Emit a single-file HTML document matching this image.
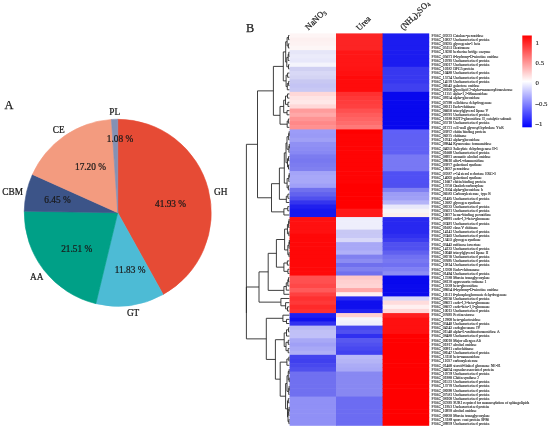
<!DOCTYPE html>
<html><head><meta charset="utf-8"><title>Figure</title>
<style>
html,body{margin:0;padding:0;background:#fff;}
body{width:550px;height:429px;overflow:hidden;}
svg{display:block;filter:blur(0.35px);}
.s{font-family:"Liberation Serif",serif;fill:#1a1a1a;}
</style></head><body>
<svg width="550" height="429" viewBox="0 0 550 429">
<rect x="0" y="0" width="550" height="429" fill="#fff"/>
<g>
<path d="M117.75,212.75 L117.75,119.25 A93.5,93.5 0 0 1 163.15,294.49 Z" fill="#E64B35" stroke="#E64B35" stroke-width="0.6" stroke-linejoin="round"/>
<path d="M117.75,212.75 L163.15,294.49 A93.5,93.5 0 0 1 95.87,303.65 Z" fill="#4DBBD5" stroke="#4DBBD5" stroke-width="0.6" stroke-linejoin="round"/>
<path d="M117.75,212.75 L95.87,303.65 A93.5,93.5 0 0 1 24.26,211.16 Z" fill="#00A087" stroke="#00A087" stroke-width="0.6" stroke-linejoin="round"/>
<path d="M117.75,212.75 L24.26,211.16 A93.5,93.5 0 0 1 32.46,174.43 Z" fill="#3C5488" stroke="#3C5488" stroke-width="0.6" stroke-linejoin="round"/>
<path d="M117.75,212.75 L32.46,174.43 A93.5,93.5 0 0 1 111.41,119.47 Z" fill="#F39B7F" stroke="#F39B7F" stroke-width="0.6" stroke-linejoin="round"/>
<path d="M117.75,212.75 L111.41,119.47 A93.5,93.5 0 0 1 117.75,119.25 Z" fill="#8491B4" stroke="#8491B4" stroke-width="0.6" stroke-linejoin="round"/>
</g>
<g class="s" font-size="9.3" text-anchor="middle" stroke="#1a1a1a" stroke-width="0.22">
<text x="114.8" y="114.7">PL</text>
<text x="120.0" y="142.0">1.08 %</text>
<text x="58.8" y="133.0">CE</text>
<text x="90.5" y="170.4">17.20 %</text>
<text x="12.6" y="195.1">CBM</text>
<text x="57.5" y="202.9">6.45 %</text>
<text x="76.7" y="251.8">21.51 %</text>
<text x="36.7" y="279.5">AA</text>
<text x="130.1" y="272.8">11.83 %</text>
<text x="133.1" y="315.8">GT</text>
<text x="220.7" y="194.5">GH</text>
<text x="170.6" y="207.3">41.93 %</text>
</g>
<text class="s" x="4.6" y="109.4" font-size="12.3" stroke="#1a1a1a" stroke-width="0.25">A</text>
<text class="s" x="246.0" y="31.7" font-size="12.3" stroke="#1a1a1a" stroke-width="0.25">B</text>
<g>
<rect x="289.60" y="33.40" width="47.00" height="4.774" fill="#fef5f5"/>
<rect x="289.60" y="37.57" width="47.00" height="4.774" fill="#fdf0f0"/>
<rect x="289.60" y="41.75" width="47.00" height="4.774" fill="#fdf2f2"/>
<rect x="289.60" y="45.92" width="47.00" height="4.774" fill="#fdf6f6"/>
<rect x="289.60" y="50.10" width="47.00" height="4.774" fill="#e6e6f8"/>
<rect x="289.60" y="54.27" width="47.00" height="4.774" fill="#ebebfa"/>
<rect x="289.60" y="58.45" width="47.00" height="4.774" fill="#e8e8fa"/>
<rect x="289.60" y="62.62" width="47.00" height="4.774" fill="#f4f4fc"/>
<rect x="289.60" y="66.80" width="47.00" height="4.774" fill="#d0d0f2"/>
<rect x="289.60" y="70.97" width="47.00" height="4.774" fill="#d8d8f6"/>
<rect x="289.60" y="75.14" width="47.00" height="4.774" fill="#d4d4f4"/>
<rect x="289.60" y="79.32" width="47.00" height="4.774" fill="#c8c8f2"/>
<rect x="289.60" y="83.49" width="47.00" height="4.774" fill="#c4c4f4"/>
<rect x="289.60" y="87.67" width="47.00" height="4.774" fill="#c8c8f4"/>
<rect x="289.60" y="91.84" width="47.00" height="4.774" fill="#ffd8d8"/>
<rect x="289.60" y="96.02" width="47.00" height="4.774" fill="#ffe4e4"/>
<rect x="289.60" y="100.19" width="47.00" height="4.774" fill="#ffe8e8"/>
<rect x="289.60" y="104.37" width="47.00" height="4.774" fill="#ffd8d8"/>
<rect x="289.60" y="108.54" width="47.00" height="4.774" fill="#ff9c9c"/>
<rect x="289.60" y="112.71" width="47.00" height="4.774" fill="#ffa8a8"/>
<rect x="289.60" y="116.89" width="47.00" height="4.774" fill="#ff9494"/>
<rect x="289.60" y="121.06" width="47.00" height="4.774" fill="#ff8888"/>
<rect x="289.60" y="125.24" width="47.00" height="4.774" fill="#ff9090"/>
<rect x="289.60" y="129.41" width="47.00" height="4.774" fill="#9c9cf8"/>
<rect x="289.60" y="133.59" width="47.00" height="4.774" fill="#9a9af6"/>
<rect x="289.60" y="137.76" width="47.00" height="4.774" fill="#a0a0f6"/>
<rect x="289.60" y="141.94" width="47.00" height="4.774" fill="#9090f4"/>
<rect x="289.60" y="146.11" width="47.00" height="4.774" fill="#8c8cf4"/>
<rect x="289.60" y="150.29" width="47.00" height="4.774" fill="#8888f4"/>
<rect x="289.60" y="154.46" width="47.00" height="4.774" fill="#7c7cf0"/>
<rect x="289.60" y="158.63" width="47.00" height="4.774" fill="#7878f0"/>
<rect x="289.60" y="162.81" width="47.00" height="4.774" fill="#7c7cf0"/>
<rect x="289.60" y="166.98" width="47.00" height="4.774" fill="#8080f0"/>
<rect x="289.60" y="171.16" width="47.00" height="4.774" fill="#a4a4f8"/>
<rect x="289.60" y="175.33" width="47.00" height="4.774" fill="#a8a8f8"/>
<rect x="289.60" y="179.51" width="47.00" height="4.774" fill="#a8a8f8"/>
<rect x="289.60" y="183.68" width="47.00" height="4.774" fill="#a0a0f8"/>
<rect x="289.60" y="187.86" width="47.00" height="4.774" fill="#7070ee"/>
<rect x="289.60" y="192.03" width="47.00" height="4.774" fill="#6262ee"/>
<rect x="289.60" y="196.20" width="47.00" height="4.774" fill="#5050ee"/>
<rect x="289.60" y="200.38" width="47.00" height="4.774" fill="#3434ee"/>
<rect x="289.60" y="204.55" width="47.00" height="4.774" fill="#2020ee"/>
<rect x="289.60" y="208.73" width="47.00" height="4.774" fill="#1818ee"/>
<rect x="289.60" y="212.90" width="47.00" height="4.774" fill="#1818ee"/>
<rect x="289.60" y="217.08" width="47.00" height="4.774" fill="#ff1010"/>
<rect x="289.60" y="221.25" width="47.00" height="4.774" fill="#ff1010"/>
<rect x="289.60" y="225.43" width="47.00" height="4.774" fill="#ff1010"/>
<rect x="289.60" y="229.60" width="47.00" height="4.774" fill="#ff1010"/>
<rect x="289.60" y="233.77" width="47.00" height="4.774" fill="#ff0808"/>
<rect x="289.60" y="237.95" width="47.00" height="4.774" fill="#ff0808"/>
<rect x="289.60" y="242.12" width="47.00" height="4.774" fill="#ff0808"/>
<rect x="289.60" y="246.30" width="47.00" height="4.774" fill="#ff0808"/>
<rect x="289.60" y="250.47" width="47.00" height="4.774" fill="#ff0808"/>
<rect x="289.60" y="254.65" width="47.00" height="4.774" fill="#ff0808"/>
<rect x="289.60" y="258.82" width="47.00" height="4.774" fill="#ff0808"/>
<rect x="289.60" y="263.00" width="47.00" height="4.774" fill="#ff0808"/>
<rect x="289.60" y="267.17" width="47.00" height="4.774" fill="#ff0808"/>
<rect x="289.60" y="271.34" width="47.00" height="4.774" fill="#ff0808"/>
<rect x="289.60" y="275.52" width="47.00" height="4.774" fill="#ff5050"/>
<rect x="289.60" y="279.69" width="47.00" height="4.774" fill="#ff5050"/>
<rect x="289.60" y="283.87" width="47.00" height="4.774" fill="#ff4848"/>
<rect x="289.60" y="288.04" width="47.00" height="4.774" fill="#ff5a5a"/>
<rect x="289.60" y="292.22" width="47.00" height="4.774" fill="#ff4040"/>
<rect x="289.60" y="296.39" width="47.00" height="4.774" fill="#ff3030"/>
<rect x="289.60" y="300.57" width="47.00" height="4.774" fill="#ff3838"/>
<rect x="289.60" y="304.74" width="47.00" height="4.774" fill="#ff2a2a"/>
<rect x="289.60" y="308.91" width="47.00" height="4.774" fill="#ff3030"/>
<rect x="289.60" y="313.09" width="47.00" height="4.774" fill="#1e1ef0"/>
<rect x="289.60" y="317.26" width="47.00" height="4.774" fill="#1010ee"/>
<rect x="289.60" y="321.44" width="47.00" height="4.774" fill="#3030f0"/>
<rect x="289.60" y="325.61" width="47.00" height="4.774" fill="#b8b8f4"/>
<rect x="289.60" y="329.79" width="47.00" height="4.774" fill="#c0c0f6"/>
<rect x="289.60" y="333.96" width="47.00" height="4.774" fill="#c0c0f8"/>
<rect x="289.60" y="338.14" width="47.00" height="4.774" fill="#a8a8f6"/>
<rect x="289.60" y="342.31" width="47.00" height="4.774" fill="#a0a0f6"/>
<rect x="289.60" y="346.49" width="47.00" height="4.774" fill="#a8a8f6"/>
<rect x="289.60" y="350.66" width="47.00" height="4.774" fill="#b0b0f6"/>
<rect x="289.60" y="354.83" width="47.00" height="4.774" fill="#4444ee"/>
<rect x="289.60" y="359.01" width="47.00" height="4.774" fill="#4040ee"/>
<rect x="289.60" y="363.18" width="47.00" height="4.774" fill="#4848ee"/>
<rect x="289.60" y="367.36" width="47.00" height="4.774" fill="#5050ee"/>
<rect x="289.60" y="371.53" width="47.00" height="4.774" fill="#7070f0"/>
<rect x="289.60" y="375.71" width="47.00" height="4.774" fill="#7070f0"/>
<rect x="289.60" y="379.88" width="47.00" height="4.774" fill="#7070f0"/>
<rect x="289.60" y="384.06" width="47.00" height="4.774" fill="#7070f0"/>
<rect x="289.60" y="388.23" width="47.00" height="4.774" fill="#7070f0"/>
<rect x="289.60" y="392.40" width="47.00" height="4.774" fill="#7070f0"/>
<rect x="289.60" y="396.58" width="47.00" height="4.774" fill="#9090f6"/>
<rect x="289.60" y="400.75" width="47.00" height="4.774" fill="#9090f6"/>
<rect x="289.60" y="404.93" width="47.00" height="4.774" fill="#9090f6"/>
<rect x="289.60" y="409.10" width="47.00" height="4.774" fill="#9090f6"/>
<rect x="289.60" y="413.28" width="47.00" height="4.774" fill="#9090f6"/>
<rect x="289.60" y="417.45" width="47.00" height="4.774" fill="#9090f6"/>
<rect x="289.60" y="421.63" width="47.00" height="4.174" fill="#9090f6"/>
<rect x="336.00" y="33.40" width="47.20" height="4.774" fill="#fc2424"/>
<rect x="336.00" y="37.57" width="47.20" height="4.774" fill="#fc2424"/>
<rect x="336.00" y="41.75" width="47.20" height="4.774" fill="#fc2424"/>
<rect x="336.00" y="45.92" width="47.20" height="4.774" fill="#fc2424"/>
<rect x="336.00" y="50.10" width="47.20" height="4.774" fill="#ff1616"/>
<rect x="336.00" y="54.27" width="47.20" height="4.774" fill="#ff1616"/>
<rect x="336.00" y="58.45" width="47.20" height="4.774" fill="#ff1616"/>
<rect x="336.00" y="62.62" width="47.20" height="4.774" fill="#ff1616"/>
<rect x="336.00" y="66.80" width="47.20" height="4.774" fill="#ff1414"/>
<rect x="336.00" y="70.97" width="47.20" height="4.774" fill="#ff1010"/>
<rect x="336.00" y="75.14" width="47.20" height="4.774" fill="#ff0a0a"/>
<rect x="336.00" y="79.32" width="47.20" height="4.774" fill="#ff0c0c"/>
<rect x="336.00" y="83.49" width="47.20" height="4.774" fill="#ff0c0c"/>
<rect x="336.00" y="87.67" width="47.20" height="4.774" fill="#ff0c0c"/>
<rect x="336.00" y="91.84" width="47.20" height="4.774" fill="#ff3030"/>
<rect x="336.00" y="96.02" width="47.20" height="4.774" fill="#ff3838"/>
<rect x="336.00" y="100.19" width="47.20" height="4.774" fill="#ff3c3c"/>
<rect x="336.00" y="104.37" width="47.20" height="4.774" fill="#ff4040"/>
<rect x="336.00" y="108.54" width="47.20" height="4.774" fill="#ff5050"/>
<rect x="336.00" y="112.71" width="47.20" height="4.774" fill="#ff5c5c"/>
<rect x="336.00" y="116.89" width="47.20" height="4.774" fill="#ff6464"/>
<rect x="336.00" y="121.06" width="47.20" height="4.774" fill="#ff6c6c"/>
<rect x="336.00" y="125.24" width="47.20" height="4.774" fill="#ff7878"/>
<rect x="336.00" y="129.41" width="47.20" height="4.774" fill="#ff0000"/>
<rect x="336.00" y="133.59" width="47.20" height="4.774" fill="#ff0404"/>
<rect x="336.00" y="137.76" width="47.20" height="4.774" fill="#ff0404"/>
<rect x="336.00" y="141.94" width="47.20" height="4.774" fill="#ff0404"/>
<rect x="336.00" y="146.11" width="47.20" height="4.774" fill="#ff0404"/>
<rect x="336.00" y="150.29" width="47.20" height="4.774" fill="#ff0404"/>
<rect x="336.00" y="154.46" width="47.20" height="4.774" fill="#ff0404"/>
<rect x="336.00" y="158.63" width="47.20" height="4.774" fill="#ff0404"/>
<rect x="336.00" y="162.81" width="47.20" height="4.774" fill="#ff0404"/>
<rect x="336.00" y="166.98" width="47.20" height="4.774" fill="#ff0404"/>
<rect x="336.00" y="171.16" width="47.20" height="4.774" fill="#ff0404"/>
<rect x="336.00" y="175.33" width="47.20" height="4.774" fill="#ff0404"/>
<rect x="336.00" y="179.51" width="47.20" height="4.774" fill="#ff0404"/>
<rect x="336.00" y="183.68" width="47.20" height="4.774" fill="#ff0000"/>
<rect x="336.00" y="187.86" width="47.20" height="4.774" fill="#ff0000"/>
<rect x="336.00" y="192.03" width="47.20" height="4.774" fill="#ff0000"/>
<rect x="336.00" y="196.20" width="47.20" height="4.774" fill="#ff0000"/>
<rect x="336.00" y="200.38" width="47.20" height="4.774" fill="#ff0000"/>
<rect x="336.00" y="204.55" width="47.20" height="4.774" fill="#ff0000"/>
<rect x="336.00" y="208.73" width="47.20" height="4.774" fill="#ff1a1a"/>
<rect x="336.00" y="212.90" width="47.20" height="4.774" fill="#ff1a1a"/>
<rect x="336.00" y="217.08" width="47.20" height="4.774" fill="#eeeefc"/>
<rect x="336.00" y="221.25" width="47.20" height="4.774" fill="#eeeefc"/>
<rect x="336.00" y="225.43" width="47.20" height="4.774" fill="#eeeefc"/>
<rect x="336.00" y="229.60" width="47.20" height="4.774" fill="#c8c8f4"/>
<rect x="336.00" y="233.77" width="47.20" height="4.774" fill="#c8c8f6"/>
<rect x="336.00" y="237.95" width="47.20" height="4.774" fill="#d8d8f8"/>
<rect x="336.00" y="242.12" width="47.20" height="4.774" fill="#a8a8f6"/>
<rect x="336.00" y="246.30" width="47.20" height="4.774" fill="#a8a8f6"/>
<rect x="336.00" y="250.47" width="47.20" height="4.774" fill="#b0b0f8"/>
<rect x="336.00" y="254.65" width="47.20" height="4.774" fill="#8080f0"/>
<rect x="336.00" y="258.82" width="47.20" height="4.774" fill="#8c8cf2"/>
<rect x="336.00" y="263.00" width="47.20" height="4.774" fill="#7070ee"/>
<rect x="336.00" y="267.17" width="47.20" height="4.774" fill="#8080f0"/>
<rect x="336.00" y="271.34" width="47.20" height="4.774" fill="#7070ee"/>
<rect x="336.00" y="275.52" width="47.20" height="4.774" fill="#ffc8c8"/>
<rect x="336.00" y="279.69" width="47.20" height="4.774" fill="#ffd0d0"/>
<rect x="336.00" y="283.87" width="47.20" height="4.774" fill="#ffd4d4"/>
<rect x="336.00" y="288.04" width="47.20" height="4.774" fill="#ffa8a8"/>
<rect x="336.00" y="292.22" width="47.20" height="4.774" fill="#fff0f0"/>
<rect x="336.00" y="296.39" width="47.20" height="4.774" fill="#2828f0"/>
<rect x="336.00" y="300.57" width="47.20" height="4.774" fill="#1010ee"/>
<rect x="336.00" y="304.74" width="47.20" height="4.774" fill="#1010ee"/>
<rect x="336.00" y="308.91" width="47.20" height="4.774" fill="#2020f0"/>
<rect x="336.00" y="313.09" width="47.20" height="4.774" fill="#ffd0d0"/>
<rect x="336.00" y="317.26" width="47.20" height="4.774" fill="#f4f4fc"/>
<rect x="336.00" y="321.44" width="47.20" height="4.774" fill="#f0f0fc"/>
<rect x="336.00" y="325.61" width="47.20" height="4.774" fill="#4848f0"/>
<rect x="336.00" y="329.79" width="47.20" height="4.774" fill="#5050f0"/>
<rect x="336.00" y="333.96" width="47.20" height="4.774" fill="#3030f0"/>
<rect x="336.00" y="338.14" width="47.20" height="4.774" fill="#5858f0"/>
<rect x="336.00" y="342.31" width="47.20" height="4.774" fill="#5050f0"/>
<rect x="336.00" y="346.49" width="47.20" height="4.774" fill="#4848f0"/>
<rect x="336.00" y="350.66" width="47.20" height="4.774" fill="#4040f0"/>
<rect x="336.00" y="354.83" width="47.20" height="4.774" fill="#b8b8f8"/>
<rect x="336.00" y="359.01" width="47.20" height="4.774" fill="#b4b4f6"/>
<rect x="336.00" y="363.18" width="47.20" height="4.774" fill="#acacf6"/>
<rect x="336.00" y="367.36" width="47.20" height="4.774" fill="#a8a8f6"/>
<rect x="336.00" y="371.53" width="47.20" height="4.774" fill="#8888f2"/>
<rect x="336.00" y="375.71" width="47.20" height="4.774" fill="#8888f2"/>
<rect x="336.00" y="379.88" width="47.20" height="4.774" fill="#8888f2"/>
<rect x="336.00" y="384.06" width="47.20" height="4.774" fill="#8888f2"/>
<rect x="336.00" y="388.23" width="47.20" height="4.774" fill="#8888f2"/>
<rect x="336.00" y="392.40" width="47.20" height="4.774" fill="#8888f2"/>
<rect x="336.00" y="396.58" width="47.20" height="4.774" fill="#6c6cf2"/>
<rect x="336.00" y="400.75" width="47.20" height="4.774" fill="#6c6cf2"/>
<rect x="336.00" y="404.93" width="47.20" height="4.774" fill="#6c6cf2"/>
<rect x="336.00" y="409.10" width="47.20" height="4.774" fill="#6c6cf2"/>
<rect x="336.00" y="413.28" width="47.20" height="4.774" fill="#6c6cf2"/>
<rect x="336.00" y="417.45" width="47.20" height="4.774" fill="#6c6cf2"/>
<rect x="336.00" y="421.63" width="47.20" height="4.174" fill="#6c6cf2"/>
<rect x="382.60" y="33.40" width="46.60" height="4.774" fill="#1c1cf0"/>
<rect x="382.60" y="37.57" width="46.60" height="4.774" fill="#1c1cf0"/>
<rect x="382.60" y="41.75" width="46.60" height="4.774" fill="#1c1cf0"/>
<rect x="382.60" y="45.92" width="46.60" height="4.774" fill="#1c1cf0"/>
<rect x="382.60" y="50.10" width="46.60" height="4.774" fill="#1c1cf0"/>
<rect x="382.60" y="54.27" width="46.60" height="4.774" fill="#1c1cf0"/>
<rect x="382.60" y="58.45" width="46.60" height="4.774" fill="#1c1cf0"/>
<rect x="382.60" y="62.62" width="46.60" height="4.774" fill="#1c1cf0"/>
<rect x="382.60" y="66.80" width="46.60" height="4.774" fill="#3838f0"/>
<rect x="382.60" y="70.97" width="46.60" height="4.774" fill="#3838f0"/>
<rect x="382.60" y="75.14" width="46.60" height="4.774" fill="#3838f0"/>
<rect x="382.60" y="79.32" width="46.60" height="4.774" fill="#3838f0"/>
<rect x="382.60" y="83.49" width="46.60" height="4.774" fill="#4040f0"/>
<rect x="382.60" y="87.67" width="46.60" height="4.774" fill="#4040f0"/>
<rect x="382.60" y="91.84" width="46.60" height="4.774" fill="#0808ee"/>
<rect x="382.60" y="96.02" width="46.60" height="4.774" fill="#0808ee"/>
<rect x="382.60" y="100.19" width="46.60" height="4.774" fill="#0808ee"/>
<rect x="382.60" y="104.37" width="46.60" height="4.774" fill="#0808ee"/>
<rect x="382.60" y="108.54" width="46.60" height="4.774" fill="#0808ee"/>
<rect x="382.60" y="112.71" width="46.60" height="4.774" fill="#0808ee"/>
<rect x="382.60" y="116.89" width="46.60" height="4.774" fill="#0808ee"/>
<rect x="382.60" y="121.06" width="46.60" height="4.774" fill="#0808ee"/>
<rect x="382.60" y="125.24" width="46.60" height="4.774" fill="#0808ee"/>
<rect x="382.60" y="129.41" width="46.60" height="4.774" fill="#6060f8"/>
<rect x="382.60" y="133.59" width="46.60" height="4.774" fill="#6060f4"/>
<rect x="382.60" y="137.76" width="46.60" height="4.774" fill="#6060f4"/>
<rect x="382.60" y="141.94" width="46.60" height="4.774" fill="#6060f4"/>
<rect x="382.60" y="146.11" width="46.60" height="4.774" fill="#6060f4"/>
<rect x="382.60" y="150.29" width="46.60" height="4.774" fill="#6060f4"/>
<rect x="382.60" y="154.46" width="46.60" height="4.774" fill="#7878f4"/>
<rect x="382.60" y="158.63" width="46.60" height="4.774" fill="#7878f4"/>
<rect x="382.60" y="162.81" width="46.60" height="4.774" fill="#7878f4"/>
<rect x="382.60" y="166.98" width="46.60" height="4.774" fill="#7878f4"/>
<rect x="382.60" y="171.16" width="46.60" height="4.774" fill="#5050f4"/>
<rect x="382.60" y="175.33" width="46.60" height="4.774" fill="#5050f4"/>
<rect x="382.60" y="179.51" width="46.60" height="4.774" fill="#5050f4"/>
<rect x="382.60" y="183.68" width="46.60" height="4.774" fill="#5050f0"/>
<rect x="382.60" y="187.86" width="46.60" height="4.774" fill="#8080f2"/>
<rect x="382.60" y="192.03" width="46.60" height="4.774" fill="#9c9cf6"/>
<rect x="382.60" y="196.20" width="46.60" height="4.774" fill="#a0a0f6"/>
<rect x="382.60" y="200.38" width="46.60" height="4.774" fill="#b4b4f8"/>
<rect x="382.60" y="204.55" width="46.60" height="4.774" fill="#e8e8fa"/>
<rect x="382.60" y="208.73" width="46.60" height="4.774" fill="#f6f4f8"/>
<rect x="382.60" y="212.90" width="46.60" height="4.774" fill="#fbefec"/>
<rect x="382.60" y="217.08" width="46.60" height="4.774" fill="#2828f0"/>
<rect x="382.60" y="221.25" width="46.60" height="4.774" fill="#2828f0"/>
<rect x="382.60" y="225.43" width="46.60" height="4.774" fill="#2828f0"/>
<rect x="382.60" y="229.60" width="46.60" height="4.774" fill="#2828f0"/>
<rect x="382.60" y="233.77" width="46.60" height="4.774" fill="#3030f0"/>
<rect x="382.60" y="237.95" width="46.60" height="4.774" fill="#3c3cf0"/>
<rect x="382.60" y="242.12" width="46.60" height="4.774" fill="#5050f0"/>
<rect x="382.60" y="246.30" width="46.60" height="4.774" fill="#5050f0"/>
<rect x="382.60" y="250.47" width="46.60" height="4.774" fill="#6060f0"/>
<rect x="382.60" y="254.65" width="46.60" height="4.774" fill="#7070f2"/>
<rect x="382.60" y="258.82" width="46.60" height="4.774" fill="#7878f2"/>
<rect x="382.60" y="263.00" width="46.60" height="4.774" fill="#7070f2"/>
<rect x="382.60" y="267.17" width="46.60" height="4.774" fill="#8080f4"/>
<rect x="382.60" y="271.34" width="46.60" height="4.774" fill="#8c8cf4"/>
<rect x="382.60" y="275.52" width="46.60" height="4.774" fill="#0808ee"/>
<rect x="382.60" y="279.69" width="46.60" height="4.774" fill="#0808ee"/>
<rect x="382.60" y="283.87" width="46.60" height="4.774" fill="#0a0aee"/>
<rect x="382.60" y="288.04" width="46.60" height="4.774" fill="#0a0aee"/>
<rect x="382.60" y="292.22" width="46.60" height="4.774" fill="#0a0aee"/>
<rect x="382.60" y="296.39" width="46.60" height="4.774" fill="#d8d8f8"/>
<rect x="382.60" y="300.57" width="46.60" height="4.774" fill="#ffdcdc"/>
<rect x="382.60" y="304.74" width="46.60" height="4.774" fill="#fff0f0"/>
<rect x="382.60" y="308.91" width="46.60" height="4.774" fill="#ffd8d8"/>
<rect x="382.60" y="313.09" width="46.60" height="4.774" fill="#ff2020"/>
<rect x="382.60" y="317.26" width="46.60" height="4.774" fill="#ff1010"/>
<rect x="382.60" y="321.44" width="46.60" height="4.774" fill="#ff1010"/>
<rect x="382.60" y="325.61" width="46.60" height="4.774" fill="#ff1010"/>
<rect x="382.60" y="329.79" width="46.60" height="4.774" fill="#ff1010"/>
<rect x="382.60" y="333.96" width="46.60" height="4.774" fill="#ff0000"/>
<rect x="382.60" y="338.14" width="46.60" height="4.774" fill="#ff0000"/>
<rect x="382.60" y="342.31" width="46.60" height="4.774" fill="#ff0000"/>
<rect x="382.60" y="346.49" width="46.60" height="4.774" fill="#ff0000"/>
<rect x="382.60" y="350.66" width="46.60" height="4.774" fill="#ff0000"/>
<rect x="382.60" y="354.83" width="46.60" height="4.774" fill="#ff0000"/>
<rect x="382.60" y="359.01" width="46.60" height="4.774" fill="#ff0000"/>
<rect x="382.60" y="363.18" width="46.60" height="4.774" fill="#ff0000"/>
<rect x="382.60" y="367.36" width="46.60" height="4.774" fill="#ff0000"/>
<rect x="382.60" y="371.53" width="46.60" height="4.774" fill="#ff0000"/>
<rect x="382.60" y="375.71" width="46.60" height="4.774" fill="#ff0000"/>
<rect x="382.60" y="379.88" width="46.60" height="4.774" fill="#ff0000"/>
<rect x="382.60" y="384.06" width="46.60" height="4.774" fill="#ff0000"/>
<rect x="382.60" y="388.23" width="46.60" height="4.774" fill="#ff0000"/>
<rect x="382.60" y="392.40" width="46.60" height="4.774" fill="#ff0000"/>
<rect x="382.60" y="396.58" width="46.60" height="4.774" fill="#ff0000"/>
<rect x="382.60" y="400.75" width="46.60" height="4.774" fill="#ff0000"/>
<rect x="382.60" y="404.93" width="46.60" height="4.774" fill="#ff0000"/>
<rect x="382.60" y="409.10" width="46.60" height="4.774" fill="#ff0000"/>
<rect x="382.60" y="413.28" width="46.60" height="4.774" fill="#ff0000"/>
<rect x="382.60" y="417.45" width="46.60" height="4.774" fill="#ff0000"/>
<rect x="382.60" y="421.63" width="46.60" height="4.174" fill="#ff0000"/>
</g>
<path d="M288.47,35.49L288.47,39.66 M288.47,35.49L289.40,35.49 M288.47,39.66L289.40,39.66 M288.35,43.84L288.35,48.01 M288.35,43.84L289.40,43.84 M288.35,48.01L289.40,48.01 M287.10,37.57L287.10,45.92 M287.10,37.57L288.47,37.57 M287.10,45.92L288.35,45.92 M288.80,52.19L288.80,56.36 M288.80,52.19L289.40,52.19 M288.80,56.36L289.40,56.36 M288.16,54.27L288.16,60.53 M288.16,54.27L288.80,54.27 M288.16,60.53L289.40,60.53 M288.52,64.71L288.52,68.88 M288.52,64.71L289.40,64.71 M288.52,68.88L289.40,68.88 M286.80,57.40L286.80,66.80 M286.80,57.40L288.16,57.40 M286.80,66.80L288.52,66.80 M285.70,41.75L285.70,62.10 M285.70,41.75L287.10,41.75 M285.70,62.10L286.80,62.10 M287.60,73.06L287.60,77.23 M287.60,73.06L289.40,73.06 M287.60,77.23L289.40,77.23 M288.62,81.41L288.62,85.58 M288.62,81.41L289.40,81.41 M288.62,85.58L289.40,85.58 M287.30,83.49L287.30,89.76 M287.30,83.49L288.62,83.49 M287.30,89.76L289.40,89.76 M286.10,75.14L286.10,86.62 M286.10,75.14L287.60,75.14 M286.10,86.62L287.30,86.62 M283.30,51.92L283.30,80.88 M283.30,51.92L285.70,51.92 M283.30,80.88L286.10,80.88 M287.56,93.93L287.56,98.10 M287.56,93.93L289.40,93.93 M287.56,98.10L289.40,98.10 M287.95,102.28L287.95,106.45 M287.95,102.28L289.40,102.28 M287.95,106.45L289.40,106.45 M285.50,96.02L285.50,104.37 M285.50,96.02L287.56,96.02 M285.50,104.37L287.95,104.37 M287.00,110.63L287.00,114.80 M287.00,110.63L289.40,110.63 M287.00,114.80L289.40,114.80 M283.70,100.19L283.70,112.71 M283.70,100.19L285.50,100.19 M283.70,112.71L287.00,112.71 M288.38,118.98L288.38,123.15 M288.38,118.98L289.40,118.98 M288.38,123.15L289.40,123.15 M287.20,121.06L287.20,127.33 M287.20,121.06L288.38,121.06 M287.20,127.33L289.40,127.33 M280.00,106.45L280.00,124.19 M280.00,106.45L283.70,106.45 M280.00,124.19L287.20,124.19 M273.40,66.40L273.40,115.32 M273.40,66.40L283.30,66.40 M273.40,115.32L280.00,115.32 M289.11,131.50L289.11,135.67 M289.11,131.50L289.40,131.50 M289.11,135.67L289.40,135.67 M288.65,133.59L288.65,139.85 M288.65,133.59L289.11,133.59 M288.65,139.85L289.40,139.85 M289.27,144.02L289.27,148.20 M289.27,144.02L289.40,144.02 M289.27,148.20L289.40,148.20 M288.88,146.11L288.88,152.37 M288.88,146.11L289.27,146.11 M288.88,152.37L289.40,152.37 M287.00,136.72L287.00,149.24 M287.00,136.72L288.65,136.72 M287.00,149.24L288.88,149.24 M288.53,156.55L288.53,160.72 M288.53,156.55L289.40,156.55 M288.53,160.72L289.40,160.72 M288.52,164.90L288.52,169.07 M288.52,164.90L289.40,164.90 M288.52,169.07L289.40,169.07 M287.50,158.63L287.50,166.98 M287.50,158.63L288.53,158.63 M287.50,166.98L288.52,166.98 M286.00,142.98L286.00,162.81 M286.00,142.98L287.00,142.98 M286.00,162.81L287.50,162.81 M289.22,173.24L289.22,177.42 M289.22,173.24L289.40,173.24 M289.22,177.42L289.40,177.42 M288.81,175.33L288.81,181.59 M288.81,175.33L289.22,175.33 M288.81,181.59L289.40,181.59 M288.37,185.77L288.37,189.94 M288.37,185.77L289.40,185.77 M288.37,189.94L289.40,189.94 M287.10,178.46L287.10,187.86 M287.10,178.46L288.81,178.46 M287.10,187.86L288.37,187.86 M284.30,152.89L284.30,183.16 M284.30,152.89L286.00,152.89 M284.30,183.16L287.10,183.16 M287.91,194.12L287.91,198.29 M287.91,194.12L289.40,194.12 M287.91,198.29L289.40,198.29 M286.30,196.20L286.30,202.47 M286.30,196.20L287.91,196.20 M286.30,202.47L289.40,202.47 M279.40,168.03L279.40,199.34 M279.40,168.03L284.30,168.03 M279.40,199.34L286.30,199.34 M287.77,206.64L287.77,210.81 M287.77,206.64L289.40,206.64 M287.77,210.81L289.40,210.81 M283.90,208.73L283.90,214.99 M283.90,208.73L287.77,208.73 M283.90,214.99L289.40,214.99 M271.50,183.68L271.50,211.86 M271.50,183.68L279.40,183.68 M271.50,211.86L283.90,211.86 M257.50,90.86L257.50,197.77 M257.50,90.86L273.40,90.86 M257.50,197.77L271.50,197.77 M289.06,219.16L289.06,223.34 M289.06,219.16L289.40,219.16 M289.06,223.34L289.40,223.34 M288.60,221.25L288.60,227.51 M288.60,221.25L289.06,221.25 M288.60,227.51L289.40,227.51 M288.89,231.69L288.89,235.86 M288.89,231.69L289.40,231.69 M288.89,235.86L289.40,235.86 M287.45,224.38L287.45,233.77 M287.45,224.38L288.60,224.38 M287.45,233.77L288.89,233.77 M289.32,240.04L289.32,244.21 M289.32,240.04L289.40,240.04 M289.32,244.21L289.40,244.21 M289.03,242.12L289.03,248.39 M289.03,242.12L289.32,242.12 M289.03,248.39L289.40,248.39 M288.96,252.56L288.96,256.73 M288.96,252.56L289.40,252.56 M288.96,256.73L289.40,256.73 M287.84,245.25L287.84,254.65 M287.84,245.25L289.03,245.25 M287.84,254.65L288.96,254.65 M284.60,229.08L284.60,249.95 M284.60,229.08L287.45,229.08 M284.60,249.95L287.84,249.95 M287.34,260.91L287.34,265.08 M287.34,260.91L289.40,260.91 M287.34,265.08L289.40,265.08 M287.90,269.26L287.90,273.43 M287.90,269.26L289.40,269.26 M287.90,273.43L289.40,273.43 M283.90,263.00L283.90,271.34 M283.90,263.00L287.34,263.00 M283.90,271.34L287.90,271.34 M276.40,239.51L276.40,267.17 M276.40,239.51L284.60,239.51 M276.40,267.17L283.90,267.17 M288.47,277.61L288.47,281.78 M288.47,277.61L289.40,277.61 M288.47,281.78L289.40,281.78 M287.83,279.69L287.83,285.96 M287.83,279.69L288.47,279.69 M287.83,285.96L289.40,285.96 M286.27,282.82L286.27,290.13 M286.27,282.82L287.83,282.82 M286.27,290.13L289.40,290.13 M283.90,286.48L283.90,294.30 M283.90,286.48L286.27,286.48 M283.90,294.30L289.40,294.30 M268.20,253.34L268.20,290.39 M268.20,253.34L276.40,253.34 M268.20,290.39L283.90,290.39 M287.56,306.83L287.56,311.00 M287.56,306.83L289.40,306.83 M287.56,311.00L289.40,311.00 M285.60,302.65L285.60,308.91 M285.60,302.65L289.40,302.65 M285.60,308.91L287.56,308.91 M280.90,298.48L280.90,305.78 M280.90,298.48L289.40,298.48 M280.90,305.78L285.60,305.78 M259.00,271.87L259.00,302.13 M259.00,271.87L268.20,271.87 M259.00,302.13L280.90,302.13 M286.50,319.35L286.50,323.53 M286.50,319.35L289.40,319.35 M286.50,323.53L289.40,323.53 M282.90,315.18L282.90,321.44 M282.90,315.18L289.40,315.18 M282.90,321.44L286.50,321.44 M288.55,327.70L288.55,331.87 M288.55,327.70L289.40,327.70 M288.55,331.87L289.40,331.87 M286.50,329.79L286.50,336.05 M286.50,329.79L288.55,329.79 M286.50,336.05L289.40,336.05 M288.29,340.22L288.29,344.40 M288.29,340.22L289.40,340.22 M288.29,344.40L289.40,344.40 M288.17,348.57L288.17,352.75 M288.17,348.57L289.40,348.57 M288.17,352.75L289.40,352.75 M286.00,342.31L286.00,350.66 M286.00,342.31L288.29,342.31 M286.00,350.66L288.17,350.66 M284.20,332.92L284.20,346.49 M284.20,332.92L286.50,332.92 M284.20,346.49L286.00,346.49 M288.86,356.92L288.86,361.10 M288.86,356.92L289.40,356.92 M288.86,361.10L289.40,361.10 M286.90,359.01L286.90,365.27 M286.90,359.01L288.86,359.01 M286.90,365.27L289.40,365.27 M289.05,369.44L289.05,373.62 M289.05,369.44L289.40,369.44 M289.05,373.62L289.40,373.62 M289.17,377.79L289.17,381.97 M289.17,377.79L289.40,377.79 M289.17,381.97L289.40,381.97 M288.24,371.53L288.24,379.88 M288.24,371.53L289.05,371.53 M288.24,379.88L289.17,379.88 M289.11,386.14L289.11,390.32 M289.11,386.14L289.40,386.14 M289.11,390.32L289.40,390.32 M288.71,388.23L288.71,394.49 M288.71,388.23L289.11,388.23 M288.71,394.49L289.40,394.49 M287.00,375.71L287.00,391.36 M287.00,375.71L288.24,375.71 M287.00,391.36L288.71,391.36 M288.30,398.67L288.30,402.84 M288.30,398.67L289.40,398.67 M288.30,402.84L289.40,402.84 M289.08,407.01L289.08,411.19 M289.08,407.01L289.40,407.01 M289.08,411.19L289.40,411.19 M288.71,409.10L288.71,415.36 M288.71,409.10L289.08,409.10 M288.71,415.36L289.40,415.36 M288.89,419.54L288.89,423.71 M288.89,419.54L289.40,419.54 M288.89,423.71L289.40,423.71 M288.00,412.23L288.00,421.63 M288.00,412.23L288.71,412.23 M288.00,421.63L288.89,421.63 M287.50,400.75L287.50,416.93 M287.50,400.75L288.30,400.75 M287.50,416.93L288.00,416.93 M285.60,383.53L285.60,408.84 M285.60,383.53L287.00,383.53 M285.60,408.84L287.50,408.84 M280.20,362.14L280.20,396.19 M280.20,362.14L286.90,362.14 M280.20,396.19L285.60,396.19 M275.40,339.70L275.40,379.16 M275.40,339.70L284.20,339.70 M275.40,379.16L280.20,379.16 M266.30,318.31L266.30,359.43 M266.30,318.31L282.90,318.31 M266.30,359.43L275.40,359.43 M246.40,287.00L246.40,338.87 M246.40,287.00L259.00,287.00 M246.40,338.87L266.30,338.87 M246.40,144.32L246.40,312.93 M246.40,144.32L257.50,144.32 M246.40,312.93L246.40,312.93" stroke="#2a2a2a" stroke-width="0.9" fill="none"/>
<g class="s" font-size="3.75" fill="#151515" stroke="#151515" stroke-width="0.09">
<text x="431.6" y="36.79">FSAC_03323 Catalase-peroxidase</text>
<text x="431.6" y="40.96">FSAC_10837 Uncharacterized protein</text>
<text x="431.6" y="45.14">FSAC_03035 glycogenin-1 beta</text>
<text x="431.6" y="49.31">FSAC_05151 Dextranase</text>
<text x="431.6" y="53.49">FSAC_13030 berberine bridge enzyme</text>
<text x="431.6" y="57.66">FSAC_05671 6-hydroxy-D-nicotine oxidase</text>
<text x="431.6" y="61.83">FSAC_10793 Uncharacterized protein</text>
<text x="431.6" y="66.01">FSAC_03017 Uncharacterized protein</text>
<text x="431.6" y="70.18">FSAC_10182 DFG5 protein</text>
<text x="431.6" y="74.36">FSAC_10488 Uncharacterized protein</text>
<text x="431.6" y="78.53">FSAC_15724 Uncharacterized protein</text>
<text x="431.6" y="82.71">FSAC_14578 Uncharacterized protein</text>
<text x="431.6" y="86.88">FSAC_06543 galactose oxidase</text>
<text x="431.6" y="91.06">FSAC_08108 glycolipid 2-alpha-mannosyltransferase</text>
<text x="431.6" y="95.23">FSAC_11151 alpha-1,2-Mannosidase</text>
<text x="431.6" y="99.40">FSAC_09154 alpha-glucosidase</text>
<text x="431.6" y="103.58">FSAC_07298 cellobiose dehydrogenase</text>
<text x="431.6" y="107.75">FSAC_08311 Endo-chitinase</text>
<text x="431.6" y="111.93">FSAC_06658 triacylglycerol lipase V</text>
<text x="431.6" y="116.10">FSAC_08791 Uncharacterized protein</text>
<text x="431.6" y="120.28">FSAC_10188 ROT2-glucosidase II, catalytic subunit</text>
<text x="431.6" y="124.45">FSAC_05718 Uncharacterized protein</text>
<text x="431.6" y="128.63">FSAC_01721 cell wall glycosyl hydrolase YteR</text>
<text x="431.6" y="132.80">FSAC_03972 chitin binding protein</text>
<text x="431.6" y="136.97">FSAC_06375 chitinase</text>
<text x="431.6" y="141.15">FSAC_10741 alpha-glucosidase</text>
<text x="431.6" y="145.32">FSAC_09844 Kynurenine formamidase</text>
<text x="431.6" y="149.50">FSAC_04053 Salicylate dehydrogenase II-1</text>
<text x="431.6" y="153.67">FSAC_01668 Uncharacterized protein</text>
<text x="431.6" y="157.85">FSAC_08921 aromatic alcohol oxidase</text>
<text x="431.6" y="162.02">FSAC_09610 alfa-L-rhamnosidase</text>
<text x="431.6" y="166.20">FSAC_03977 galactinol synthase</text>
<text x="431.6" y="170.37">FSAC_10637 peroxidase</text>
<text x="431.6" y="174.54">FSAC_03387 c-14 sterol reductase ERG-3</text>
<text x="431.6" y="178.72">FSAC_14003 galactinol synthase</text>
<text x="431.6" y="182.89">FSAC_11667 chitin binding protein</text>
<text x="431.6" y="187.07">FSAC_13758 Oxalodecarboxylase</text>
<text x="431.6" y="191.24">FSAC_13504 alpha-glucosidase b</text>
<text x="431.6" y="195.42">FSAC_06583 Carboxylesterase, type B</text>
<text x="431.6" y="199.59">FSAC_01485 Uncharacterized protein</text>
<text x="431.6" y="203.77">FSAC_12682 glycogen synthase</text>
<text x="431.6" y="207.94">FSAC_08233 Uncharacterized protein</text>
<text x="431.6" y="212.11">FSAC_03621 Uncharacterized protein</text>
<text x="431.6" y="216.29">FSAC_10677 heme-binding peroxidase</text>
<text x="431.6" y="220.46">FSAC_08991 endo-1,3-beta-glucanase</text>
<text x="431.6" y="224.64">FSAC_07491 Uncharacterized protein</text>
<text x="431.6" y="228.81">FSAC_01682 class V chitinase</text>
<text x="431.6" y="232.99">FSAC_14141 Uncharacterized protein</text>
<text x="431.6" y="237.16">FSAC_07463 Uncharacterized protein</text>
<text x="431.6" y="241.34">FSAC_13453 glycogen synthase</text>
<text x="431.6" y="245.51">FSAC_03443 raffinose invertase</text>
<text x="431.6" y="249.69">FSAC_14133 Uncharacterized protein</text>
<text x="431.6" y="253.86">FSAC_10048 triacylglycerol lipase II</text>
<text x="431.6" y="258.03">FSAC_08276 Uncharacterized protein</text>
<text x="431.6" y="262.21">FSAC_07695 Uncharacterized protein</text>
<text x="431.6" y="266.38">FSAC_10814 Uncharacterized protein</text>
<text x="431.6" y="270.56">FSAC_13208 Endo-chitosanase</text>
<text x="431.6" y="274.73">FSAC_01494 Uncharacterized protein</text>
<text x="431.6" y="278.91">FSAC_12288 Murein transglycosylase</text>
<text x="431.6" y="283.08">FSAC_08128 appressorin cutinase 1</text>
<text x="431.6" y="287.26">FSAC_13339 beta-glucosidase</text>
<text x="431.6" y="291.43">FSAC_09654 6-hydroxy-D-nicotine oxidase</text>
<text x="431.6" y="295.60">FSAC_10511 6-phosphogluconate dehydrogenase</text>
<text x="431.6" y="299.78">FSAC_08236 Uncharacterized protein</text>
<text x="431.6" y="303.95">FSAC_09621 endo-1,3-beta-glucanase</text>
<text x="431.6" y="308.13">FSAC_08672 endo-beta-1,3-glucanase</text>
<text x="431.6" y="312.30">FSAC_10013 Uncharacterized protein</text>
<text x="431.6" y="316.48">FSAC_07693 Pectinesterase</text>
<text x="431.6" y="320.65">FSAC_12908 beta-galactosidase</text>
<text x="431.6" y="324.83">FSAC_03448 Uncharacterized protein</text>
<text x="431.6" y="329.00">FSAC_04243 endoglucanase IV</text>
<text x="431.6" y="333.17">FSAC_01548 alpha-L-arabinofuranosidase A</text>
<text x="431.6" y="337.35">FSAC_08488 Uncharacterized protein</text>
<text x="431.6" y="341.52">FSAC_00018 Major allergen Alt</text>
<text x="431.6" y="345.70">FSAC_01917 alcohol oxidase</text>
<text x="431.6" y="349.87">FSAC_00911 endochitinase</text>
<text x="431.6" y="354.05">FSAC_08547 Uncharacterized protein</text>
<text x="431.6" y="358.22">FSAC_13150 beta-mannosidase</text>
<text x="431.6" y="362.40">FSAC_11037 carboxylesterase</text>
<text x="431.6" y="366.57">FSAC_01468 steroid-linked glucanase NE-01</text>
<text x="431.6" y="370.74">FSAC_04624 capsular associated protein</text>
<text x="431.6" y="374.92">FSAC_10729 Uncharacterized protein</text>
<text x="431.6" y="379.09">FSAC_01988 Chitin synthase 2</text>
<text x="431.6" y="383.27">FSAC_01523 Uncharacterized protein</text>
<text x="431.6" y="387.44">FSAC_13778 Uncharacterized protein</text>
<text x="431.6" y="391.62">FSAC_08398 Uncharacterized protein</text>
<text x="431.6" y="395.79">FSAC_07581 Uncharacterized protein</text>
<text x="431.6" y="399.97">FSAC_08108 Uncharacterized protein</text>
<text x="431.6" y="404.14">FSAC_02393 SUR1 required for mannosylation of sphingolipids</text>
<text x="431.6" y="408.31">FSAC_11953 Uncharacterized protein</text>
<text x="431.6" y="412.49">FSAC_10928 alcohol oxidase</text>
<text x="431.6" y="416.66">FSAC_08838 Murein transglycosylase</text>
<text x="431.6" y="420.84">FSAC_13189 spore coat protein SP96</text>
<text x="431.6" y="425.01">FSAC_09929 Uncharacterized protein</text>
</g>
<g class="s" font-size="8.5" fill="#1a1a1a" stroke="#1a1a1a" stroke-width="0.2">
<text transform="translate(308.6,30.4) rotate(-45)" x="0" y="0">NaNO<tspan font-size="6" dy="1.5">3</tspan></text>
<text transform="translate(359.6,31.0) rotate(-45)" x="0" y="0">Urea</text>
<text transform="translate(403.4,30.6) rotate(-45)" x="0" y="0">(NH<tspan font-size="6" dy="1.5">4</tspan><tspan dy="-1.5">)</tspan><tspan font-size="6" dy="1.5">2</tspan><tspan dy="-1.5">SO</tspan><tspan font-size="6" dy="1.5">4</tspan></text>
</g>
<defs><linearGradient id="cb" x1="0" y1="0" x2="0" y2="1"><stop offset="0" stop-color="#ff0000"/><stop offset="0.5" stop-color="#ffffff"/><stop offset="1" stop-color="#0000ff"/></linearGradient></defs>
<rect x="522.3" y="35.5" width="9.5" height="91.8" fill="url(#cb)"/>
<g class="s" font-size="6.8" fill="#1a1a1a" stroke="#1a1a1a" stroke-width="0.12">
<text x="535.6" y="45.0">1</text>
<text x="535.6" y="65.4">0.5</text>
<text x="535.6" y="85.3">0</text>
<text x="535.6" y="106.2">–0.5</text>
<text x="535.6" y="126.3">–1</text>
</g>
</svg>
</body></html>
